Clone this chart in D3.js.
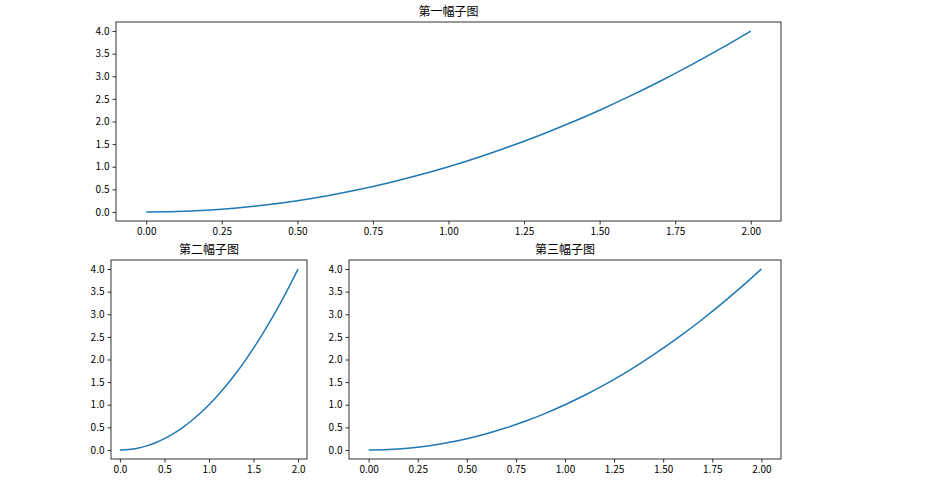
<!DOCTYPE html>
<html><head><meta charset="utf-8">
<script src="https://cdn.jsdelivr.net/npm/d3@7"></script>
<style>body{margin:0;background:#fff}text{font-family:"Noto Sans CJK SC","DejaVu Sans",sans-serif}</style>
</head><body><svg id="c" width="929" height="486"></svg>
<script>
const titles = ["第一幅子图","第二幅子图","第三幅子图"];
const xs = [0,0.1,0.2,0.3,0.4,0.5,0.6,0.7,0.8,0.9,1.0,1.1,1.2,1.3,1.4,1.5,1.6,1.7,1.8,1.9,2.0];
const ys = [0,0.01,0.04,0.09,0.16,0.25,0.36,0.49,0.64,0.81,1.0,1.21,1.44,1.69,1.96,2.25,2.56,2.89,3.24,3.61,4.0];
const yTicks = [0,0.5,1,1.5,2,2.5,3,3.5,4];
const xTicksFine = [0,0.25,0.5,0.75,1,1.25,1.5,1.75,2];
const xTicksCoarse = [0,0.5,1,1.5,2];
const panels = [
 {t:0,x0:116,x1:781,y0:22,y1:221,xt:xTicksFine,fmt:d3.format(".2f")},
 {t:1,x0:111,x1:307,y0:260,y1:459,xt:xTicksCoarse,fmt:d3.format(".1f")},
 {t:2,x0:349,x1:781,y0:260,y1:459,xt:xTicksFine,fmt:d3.format(".2f")}
];
const svg=d3.select("#c");
panels.forEach(p=>{
 const x=d3.scaleLinear().domain([-0.1,2.1]).range([p.x0,p.x1]);
 const y=d3.scaleLinear().domain([-0.2,4.2]).range([p.y1,p.y0]);
 const g=svg.append("g");
 const line=d3.line().x((d,i)=>x(xs[i])).y(d=>y(d)).curve(d3.curveMonotoneX);
 g.append("path").attr("d",line(ys)).attr("fill","none").attr("stroke","#1f77b4").attr("stroke-width",1.5);
 const xa=g.append("g").attr("transform",`translate(0,${p.y1})`).call(d3.axisBottom(x).tickValues(p.xt).tickFormat(p.fmt).tickSize(3.5).tickPadding(3));
 const ya=g.append("g").attr("transform",`translate(${p.x0},0)`).call(d3.axisLeft(y).tickValues(yTicks).tickFormat(d3.format(".1f")).tickSize(3.5).tickPadding(3));
 [xa,ya].forEach(a=>{a.select(".domain").remove();a.selectAll("text").attr("font-size",10).attr("fill","#000").style("font-family","'Noto Sans CJK SC',sans-serif");a.selectAll("line").attr("stroke","#000").attr("stroke-width",0.8);});
 g.append("rect").attr("x",p.x0).attr("y",p.y0).attr("width",p.x1-p.x0).attr("height",p.y1-p.y0).attr("fill","none").attr("stroke","#000").attr("stroke-width",0.8);
 g.append("text").attr("x",(p.x0+p.x1)/2).attr("y",p.y0-6).attr("text-anchor","middle").attr("font-size",12).text(titles[p.t]);
});
</script></body></html>
